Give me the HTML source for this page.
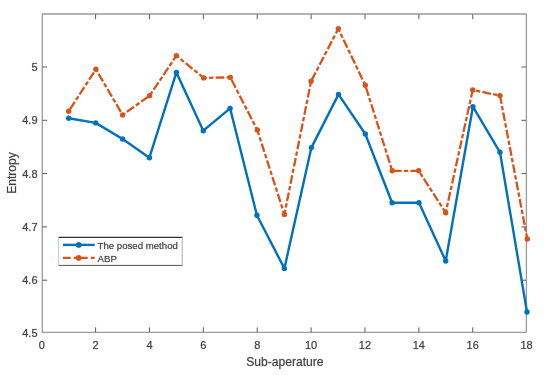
<!DOCTYPE html>
<html><head><meta charset="utf-8"><style>
html,body{margin:0;padding:0;background:#fff;}
body{width:550px;height:375px;overflow:hidden;}
svg{display:block;}
#w{width:550px;height:375px;}
text{font-family:"Liberation Sans",Arial,sans-serif;font-size:11px;fill:#404040;stroke:#404040;stroke-width:0.55px;stroke-opacity:0.4;}
</style></head><body>
<div id="w"><svg width="550" height="375" viewBox="0 0 550 375">
<line x1="42" y1="14" x2="526.4" y2="14" stroke="#9a9a9a" stroke-width="1.3"/>
<line x1="42" y1="332.4" x2="526.4" y2="332.4" stroke="#9a9a9a" stroke-width="1.3"/>
<line x1="42.3" y1="14" x2="42.3" y2="332.4" stroke="#9a9a9a" stroke-width="1.3"/>
<line x1="526.4" y1="14" x2="526.4" y2="332.4" stroke="#9a9a9a" stroke-width="1.3"/>
<text x="41.70" y="348.8" text-anchor="middle">0</text>
<line x1="95.58" y1="332" x2="95.58" y2="327.4" stroke="#303030" stroke-width="0.8"/>
<line x1="95.58" y1="14.5" x2="95.58" y2="19.1" stroke="#303030" stroke-width="0.8"/>
<text x="95.58" y="348.8" text-anchor="middle">2</text>
<line x1="149.46" y1="332" x2="149.46" y2="327.4" stroke="#303030" stroke-width="0.8"/>
<line x1="149.46" y1="14.5" x2="149.46" y2="19.1" stroke="#303030" stroke-width="0.8"/>
<text x="149.46" y="348.8" text-anchor="middle">4</text>
<line x1="203.34" y1="332" x2="203.34" y2="327.4" stroke="#303030" stroke-width="0.8"/>
<line x1="203.34" y1="14.5" x2="203.34" y2="19.1" stroke="#303030" stroke-width="0.8"/>
<text x="203.34" y="348.8" text-anchor="middle">6</text>
<line x1="257.22" y1="332" x2="257.22" y2="327.4" stroke="#303030" stroke-width="0.8"/>
<line x1="257.22" y1="14.5" x2="257.22" y2="19.1" stroke="#303030" stroke-width="0.8"/>
<text x="257.22" y="348.8" text-anchor="middle">8</text>
<line x1="311.10" y1="332" x2="311.10" y2="327.4" stroke="#303030" stroke-width="0.8"/>
<line x1="311.10" y1="14.5" x2="311.10" y2="19.1" stroke="#303030" stroke-width="0.8"/>
<text x="311.10" y="348.8" text-anchor="middle">10</text>
<line x1="364.98" y1="332" x2="364.98" y2="327.4" stroke="#303030" stroke-width="0.8"/>
<line x1="364.98" y1="14.5" x2="364.98" y2="19.1" stroke="#303030" stroke-width="0.8"/>
<text x="364.98" y="348.8" text-anchor="middle">12</text>
<line x1="418.86" y1="332" x2="418.86" y2="327.4" stroke="#303030" stroke-width="0.8"/>
<line x1="418.86" y1="14.5" x2="418.86" y2="19.1" stroke="#303030" stroke-width="0.8"/>
<text x="418.86" y="348.8" text-anchor="middle">14</text>
<line x1="472.74" y1="332" x2="472.74" y2="327.4" stroke="#303030" stroke-width="0.8"/>
<line x1="472.74" y1="14.5" x2="472.74" y2="19.1" stroke="#303030" stroke-width="0.8"/>
<text x="472.74" y="348.8" text-anchor="middle">16</text>
<text x="526.62" y="348.8" text-anchor="middle">18</text>
<text x="37.5" y="337.40" text-anchor="end">4.5</text>
<line x1="42.5" y1="280.20" x2="47.1" y2="280.20" stroke="#303030" stroke-width="0.8"/>
<line x1="526" y1="280.20" x2="521.4" y2="280.20" stroke="#303030" stroke-width="0.8"/>
<text x="37.5" y="284.10" text-anchor="end">4.6</text>
<line x1="42.5" y1="226.90" x2="47.1" y2="226.90" stroke="#303030" stroke-width="0.8"/>
<line x1="526" y1="226.90" x2="521.4" y2="226.90" stroke="#303030" stroke-width="0.8"/>
<text x="37.5" y="230.80" text-anchor="end">4.7</text>
<line x1="42.5" y1="173.60" x2="47.1" y2="173.60" stroke="#303030" stroke-width="0.8"/>
<line x1="526" y1="173.60" x2="521.4" y2="173.60" stroke="#303030" stroke-width="0.8"/>
<text x="37.5" y="177.50" text-anchor="end">4.8</text>
<line x1="42.5" y1="120.30" x2="47.1" y2="120.30" stroke="#303030" stroke-width="0.8"/>
<line x1="526" y1="120.30" x2="521.4" y2="120.30" stroke="#303030" stroke-width="0.8"/>
<text x="37.5" y="124.20" text-anchor="end">4.9</text>
<line x1="42.5" y1="67.00" x2="47.1" y2="67.00" stroke="#303030" stroke-width="0.8"/>
<line x1="526" y1="67.00" x2="521.4" y2="67.00" stroke="#303030" stroke-width="0.8"/>
<text x="37.5" y="70.90" text-anchor="end">5</text>
<polyline points="68.7,111.2 95.9,69.3 122.6,114.9 149.6,95.7 176.4,55.7 203.7,77.9 230.3,77.4 257.3,130.0 284.4,214.4 311.1,81.3 338.3,28.7 365.3,85.3 392.2,170.8 418.7,170.8 445.7,212.7 472.7,90.0 500.0,95.6 527.3,239.0" fill="none" stroke="#D95319" stroke-width="2.3" stroke-dasharray="8.8 2.2 4.4 2.2" stroke-dashoffset="-2.4" stroke-linejoin="round"/>
<circle cx="68.7" cy="111.2" r="2.7" fill="#D95319"/>
<circle cx="95.9" cy="69.3" r="2.7" fill="#D95319"/>
<circle cx="122.6" cy="114.9" r="2.7" fill="#D95319"/>
<circle cx="149.6" cy="95.7" r="2.7" fill="#D95319"/>
<circle cx="176.4" cy="55.7" r="2.7" fill="#D95319"/>
<circle cx="203.7" cy="77.9" r="2.7" fill="#D95319"/>
<circle cx="230.3" cy="77.4" r="2.7" fill="#D95319"/>
<circle cx="257.3" cy="130.0" r="2.7" fill="#D95319"/>
<circle cx="284.4" cy="214.4" r="2.7" fill="#D95319"/>
<circle cx="311.1" cy="81.3" r="2.7" fill="#D95319"/>
<circle cx="338.3" cy="28.7" r="2.7" fill="#D95319"/>
<circle cx="365.3" cy="85.3" r="2.7" fill="#D95319"/>
<circle cx="392.2" cy="170.8" r="2.7" fill="#D95319"/>
<circle cx="418.7" cy="170.8" r="2.7" fill="#D95319"/>
<circle cx="445.7" cy="212.7" r="2.7" fill="#D95319"/>
<circle cx="472.7" cy="90.0" r="2.7" fill="#D95319"/>
<circle cx="500.0" cy="95.6" r="2.7" fill="#D95319"/>
<circle cx="527.3" cy="239.0" r="2.7" fill="#D95319"/>
<polyline points="68.7,118.3 95.7,122.9 122.6,139.0 149.4,157.7 176.4,72.4 203.3,130.7 230.1,108.4 256.9,215.3 284.4,268.4 311.4,147.6 338.5,94.4 365.3,134.0 392.1,202.7 419.0,202.7 445.7,261.0 472.9,106.7 500.0,152.3 527.0,312.0" fill="none" stroke="#0072BD" stroke-width="2.4" stroke-linejoin="round"/>
<circle cx="68.7" cy="118.3" r="2.7" fill="#0072BD"/>
<circle cx="95.7" cy="122.9" r="2.7" fill="#0072BD"/>
<circle cx="122.6" cy="139.0" r="2.7" fill="#0072BD"/>
<circle cx="149.4" cy="157.7" r="2.7" fill="#0072BD"/>
<circle cx="176.4" cy="72.4" r="2.7" fill="#0072BD"/>
<circle cx="203.3" cy="130.7" r="2.7" fill="#0072BD"/>
<circle cx="230.1" cy="108.4" r="2.7" fill="#0072BD"/>
<circle cx="256.9" cy="215.3" r="2.7" fill="#0072BD"/>
<circle cx="284.4" cy="268.4" r="2.7" fill="#0072BD"/>
<circle cx="311.4" cy="147.6" r="2.7" fill="#0072BD"/>
<circle cx="338.5" cy="94.4" r="2.7" fill="#0072BD"/>
<circle cx="365.3" cy="134.0" r="2.7" fill="#0072BD"/>
<circle cx="392.1" cy="202.7" r="2.7" fill="#0072BD"/>
<circle cx="419.0" cy="202.7" r="2.7" fill="#0072BD"/>
<circle cx="445.7" cy="261.0" r="2.7" fill="#0072BD"/>
<circle cx="472.9" cy="106.7" r="2.7" fill="#0072BD"/>
<circle cx="500.0" cy="152.3" r="2.7" fill="#0072BD"/>
<circle cx="527.0" cy="312.0" r="2.7" fill="#0072BD"/>
<text x="284.9" y="366.1" text-anchor="middle" style="font-size:12.1px">Sub-aperature</text>
<text transform="translate(16.3,173.0) rotate(-90)" text-anchor="middle" style="font-size:12.1px">Entropy</text>
<rect x="58.5" y="237.3" width="123.7" height="28" fill="#fff"/>
<line x1="58.4" y1="237.4" x2="182.5" y2="237.4" stroke="#303030" stroke-width="1.2"/>
<line x1="58.4" y1="265.4" x2="182.5" y2="265.4" stroke="#555" stroke-width="1"/>
<line x1="58.5" y1="237.4" x2="58.5" y2="265.4" stroke="#ccc" stroke-width="1"/>
<line x1="182.2" y1="237.4" x2="182.2" y2="265.4" stroke="#aaa" stroke-width="1"/>
<line x1="63" y1="244.9" x2="94.7" y2="244.9" stroke="#0072BD" stroke-width="2.4"/>
<circle cx="78.7" cy="244.9" r="2.8" fill="#0072BD"/>
<line x1="63" y1="257.9" x2="70.7" y2="257.9" stroke="#D95319" stroke-width="2.3"/>
<line x1="73.9" y1="257.9" x2="76.5" y2="257.9" stroke="#D95319" stroke-width="2.3"/>
<line x1="79" y1="257.9" x2="87.7" y2="257.9" stroke="#D95319" stroke-width="2.3"/>
<line x1="90.9" y1="257.9" x2="94.6" y2="257.9" stroke="#D95319" stroke-width="2.3"/>
<circle cx="78.7" cy="257.9" r="2.8" fill="#D95319"/>
<text x="97.6" y="249.0" style="font-size:9.65px">The posed method</text>
<text x="97.6" y="261.5" style="font-size:9.65px">ABP</text>
</svg></div>
</body></html>
